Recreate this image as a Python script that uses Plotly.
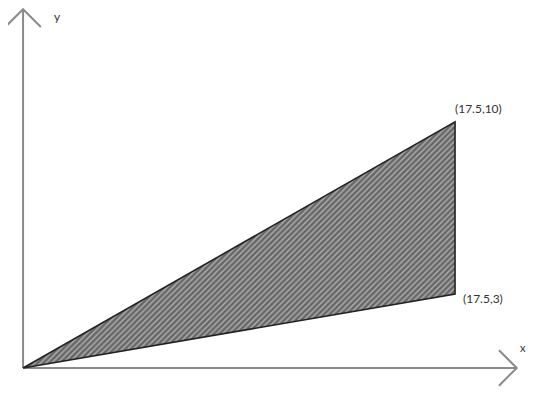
import plotly.graph_objects as go

# Shaded region: origin -> (17.5,10) -> (17.5,3)
region_x = [0, 17.5, 17.5, 0]
region_y = [0, 10, 3, 0]

# Corner labels
label_x = [17.5, 17.5]
label_y = [10, 3]
label_text = ['(17.5,10)', '(17.5,3)']

# Axis extents (data units)
x_axis_end = 20.0
y_axis_end = 14.58
head = 0.72

fig = go.Figure()

# axes with open arrowheads
fig.add_trace(go.Scatter(
    x=[0, x_axis_end, None, x_axis_end - head, x_axis_end, x_axis_end - head],
    y=[0, 0, None, head, 0, -head],
    mode='lines', line=dict(color='#8a8a8a', width=2), hoverinfo='skip', cliponaxis=False))
fig.add_trace(go.Scatter(
    x=[0, 0, None, -head, 0, head],
    y=[0, y_axis_end, None, y_axis_end - head, y_axis_end, y_axis_end - head],
    mode='lines', line=dict(color='#8a8a8a', width=2), hoverinfo='skip', cliponaxis=False))

# hatched triangle
fig.add_trace(go.Scatter(
    x=region_x, y=region_y, mode='lines', fill='toself',
    fillcolor='#707070',
    fillpattern=dict(shape='/', fgcolor='#1e1e1e', bgcolor='#b0b0b0', size=4, solidity=0.65),
    line=dict(color='#222222', width=1.6), hoverinfo='skip'))

for lx, ly, txt, dx, dy in zip(label_x, label_y, label_text, [-2, 6], [13, -4]):
    fig.add_annotation(x=lx, y=ly, text=txt, showarrow=False,
                       xanchor='left', yanchor='middle', xshift=dx, yshift=dy,
                       font=dict(family='Lato, Arial', size=12, color='#333'))

fig.add_annotation(x=0, y=y_axis_end, text='y', showarrow=False, xshift=34, yshift=-7,
                   font=dict(family='Lato, Arial', size=12, color='#333'))
fig.add_annotation(x=x_axis_end, y=0, text='x', showarrow=False, xshift=6, yshift=20,
                   font=dict(family='Lato, Arial', size=11, color='#333'))

# page body has an 8px margin, so ranges are shifted to put the origin at (23,368)
fig.update_layout(
    width=547, height=404, margin=dict(l=0, r=0, t=0, b=0),
    paper_bgcolor='white', plot_bgcolor='white', showlegend=False,
    xaxis=dict(range=[-0.61, 21.55], visible=False, fixedrange=True),
    yaxis=dict(range=[-1.79, 14.63], visible=False, fixedrange=True),
)

fig.write_html("out.html")
